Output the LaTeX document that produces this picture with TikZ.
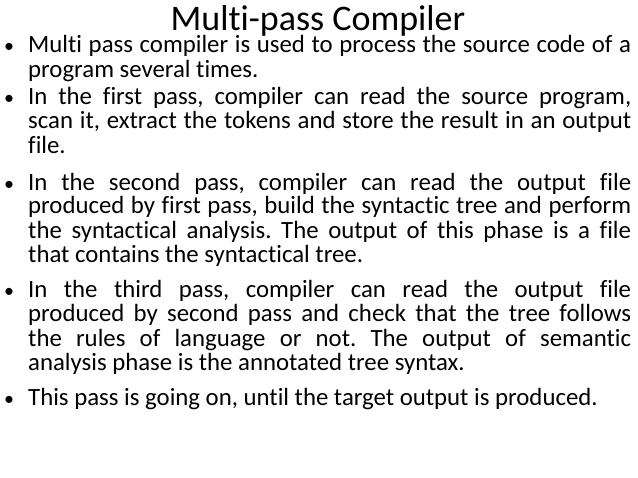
\documentclass[tikz,border=0pt]{standalone}
\usepackage{fontspec}
\setmainfont[Ligatures=NoCommon]{Carlito}
\begin{document}
\frenchspacing
\begin{tikzpicture}[x=1pt,y=1pt,
  ln/.style={anchor=base west,inner sep=0pt,font=\fontsize{24.8}{28}\selectfont},
  bl/.style={anchor=base west,inner sep=0pt,font=\fontsize{20}{24}\selectfont}]
\fill[white] (0,0) rectangle (638,-478);
\useasboundingbox (0,0) rectangle (638,-478);
\node[inner sep=0pt,anchor=base,font=\fontsize{36}{40}\selectfont] (title) at (318,-31) {Multi-pass Compiler};
\def\J#1#2#3{\node[ln] (#1) at (28,-#2) {\makebox[603pt][s]{#3}};}
\def\L#1#2#3{\node[ln] (#1) at (28,-#2) {#3};}
\def\B#1#2{\node[bl] (#1) at (4,-#2) {•};}
\B{b1}{53}\J{l1}{53}{Multi pass compiler is used to process the source code of a}
\L{l2}{78}{program several times.}
\B{b2}{105}\J{l3}{105}{In the first pass, compiler can read the source program,}
\J{l4}{129}{scan it, extract the tokens and store the result in an output}
\L{l5}{154}{file.}
\B{b3}{191}\J{l6}{191}{In the second pass, compiler can read the output file}
\J{l7}{214}{produced by first pass, build the syntactic tree and perform}
\J{l8}{239}{the syntactical analysis. The output of this phase is a file}
\L{l9}{263}{that contains the syntactical tree.}
\B{b4}{298}\J{l10}{298}{In the third pass, compiler can read the output file}
\J{l11}{322}{produced by second pass and check that the tree follows}
\J{l12}{347}{the rules of language or not. The output of semantic}
\L{l13}{371}{analysis phase is the annotated tree syntax.}
\B{b5}{406}\L{l14}{406}{This pass is going on, until the target output is produced.}
\end{tikzpicture}
\end{document}
